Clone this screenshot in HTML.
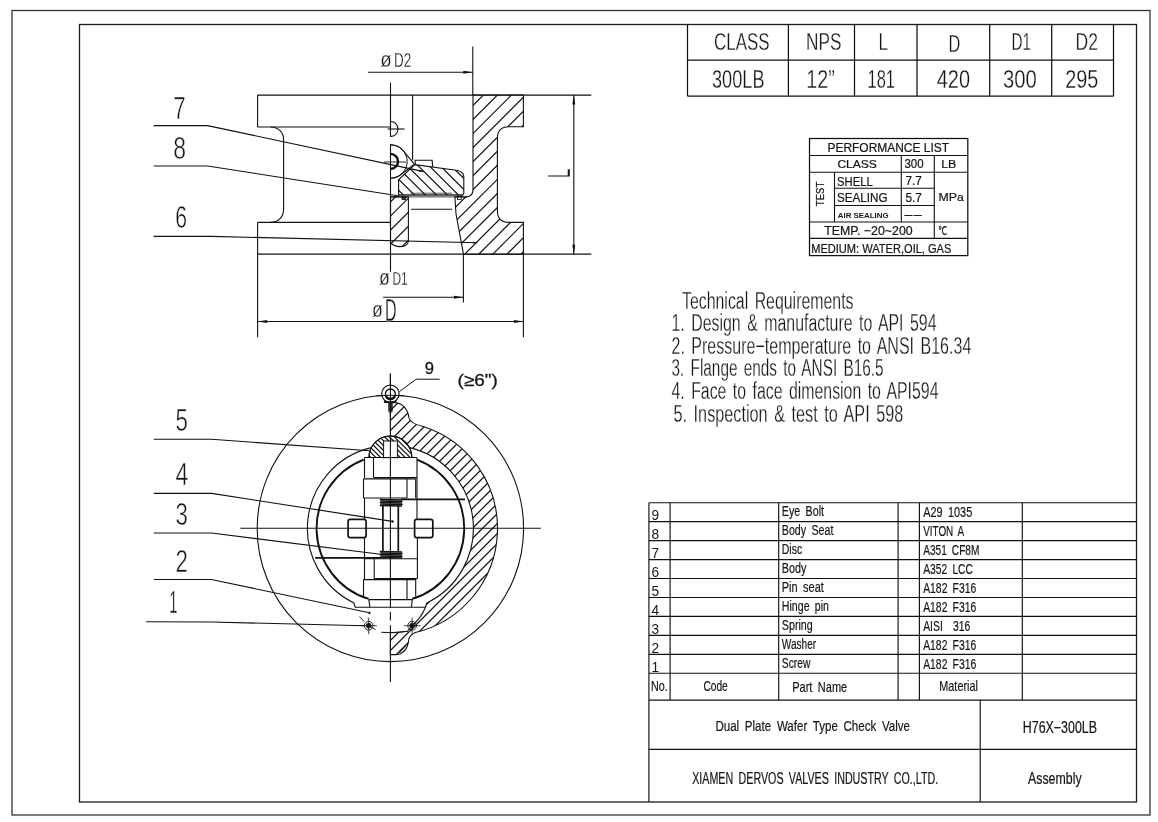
<!DOCTYPE html>
<html lang="en">
<head>
<meta charset="utf-8">
<title>Dual Plate Wafer Type Check Valve H76X-300LB</title>
<style>
html,body{margin:0;padding:0;background:#fff;}
body{width:1158px;height:822px;overflow:hidden;}
svg{display:block;will-change:transform;}
text{font-family:"Liberation Sans","Noto Sans CJK SC",sans-serif;fill:#151515;}
.t{stroke:#fff;stroke-width:0.28px;}
.s{stroke:#151515;stroke-width:0.2px;word-spacing:0.22em;}
.t2{stroke:#fff;stroke-width:0.5px;}
.m{stroke:#151515;stroke-width:0.22px;}
.b{stroke:none;}
.bb{stroke:#151515;stroke-width:0.3px;}
</style>
</head>
<body>
<svg width="1158" height="822" viewBox="0 0 1158 822">
<rect x="0" y="0" width="1158" height="822" fill="#fff"/>
<rect x="12.00" y="10.50" width="1138.00" height="804.50" rx="0" stroke="#333" stroke-width="1.3" fill="none"/>
<rect x="79.50" y="24.50" width="1057.00" height="777.50" rx="0" stroke="#1c1c1c" stroke-width="1.3" fill="none"/>
<line x1="687.50" y1="24.50" x2="687.50" y2="96.20" stroke="#101010" stroke-width="1.25" />
<line x1="788.40" y1="24.50" x2="788.40" y2="96.20" stroke="#101010" stroke-width="1.25" />
<line x1="854.50" y1="24.50" x2="854.50" y2="96.20" stroke="#101010" stroke-width="1.25" />
<line x1="917.00" y1="24.50" x2="917.00" y2="96.20" stroke="#101010" stroke-width="1.25" />
<line x1="989.70" y1="24.50" x2="989.70" y2="96.20" stroke="#101010" stroke-width="1.25" />
<line x1="1051.70" y1="24.50" x2="1051.70" y2="96.20" stroke="#101010" stroke-width="1.25" />
<line x1="1113.50" y1="24.50" x2="1113.50" y2="96.20" stroke="#101010" stroke-width="1.25" />
<line x1="687.50" y1="60.20" x2="1113.50" y2="60.20" stroke="#101010" stroke-width="1.25" />
<line x1="687.50" y1="96.20" x2="1113.50" y2="96.20" stroke="#101010" stroke-width="1.25" />
<text class="t" x="714.0" y="49.8" font-size="24.5" textLength="55.5" lengthAdjust="spacingAndGlyphs" >CLASS</text>
<text class="t" x="806.0" y="49.8" font-size="24.5" textLength="35.5" lengthAdjust="spacingAndGlyphs" >NPS</text>
<text class="t" x="878.4" y="49.8" font-size="24.5" textLength="9.5" lengthAdjust="spacingAndGlyphs" >L</text>
<text class="t" x="948.5" y="52.3" font-size="24.5" textLength="11.8" lengthAdjust="spacingAndGlyphs" >D</text>
<text class="t" x="1011.5" y="49.8" font-size="24.5" textLength="19.5" lengthAdjust="spacingAndGlyphs" >D1</text>
<text class="t" x="1075.5" y="49.8" font-size="24.5" textLength="22.5" lengthAdjust="spacingAndGlyphs" >D2</text>
<text class="t" x="712.0" y="87.5" font-size="25.8" textLength="52.5" lengthAdjust="spacingAndGlyphs" >300LB</text>
<text class="t" x="806.3" y="87.5" font-size="25.8" textLength="28.5" lengthAdjust="spacingAndGlyphs" >12”</text>
<text class="t" x="867.5" y="87.5" font-size="25.8" textLength="27.5" lengthAdjust="spacingAndGlyphs" >181</text>
<text class="t" x="936.8" y="87.5" font-size="25.8" textLength="33.2" lengthAdjust="spacingAndGlyphs" >420</text>
<text class="t" x="1003.0" y="87.5" font-size="25.8" textLength="33.8" lengthAdjust="spacingAndGlyphs" >300</text>
<text class="t" x="1065.2" y="87.5" font-size="25.8" textLength="33.2" lengthAdjust="spacingAndGlyphs" >295</text>
<rect x="809.50" y="138.50" width="158.30" height="117.10" rx="0" stroke="#101010" stroke-width="1.25" fill="none"/>
<line x1="809.50" y1="155.50" x2="967.80" y2="155.50" stroke="#101010" stroke-width="1.1" />
<line x1="809.50" y1="172.20" x2="967.80" y2="172.20" stroke="#101010" stroke-width="1.1" />
<line x1="834.50" y1="188.30" x2="934.30" y2="188.30" stroke="#101010" stroke-width="1.1" />
<line x1="834.50" y1="205.50" x2="934.30" y2="205.50" stroke="#101010" stroke-width="1.1" />
<line x1="809.50" y1="222.00" x2="967.80" y2="222.00" stroke="#101010" stroke-width="1.1" />
<line x1="809.50" y1="238.40" x2="967.80" y2="238.40" stroke="#101010" stroke-width="1.1" />
<line x1="834.50" y1="172.20" x2="834.50" y2="222.00" stroke="#101010" stroke-width="1.1" />
<line x1="901.30" y1="155.50" x2="901.30" y2="222.00" stroke="#101010" stroke-width="1.1" />
<line x1="934.30" y1="155.50" x2="934.30" y2="238.40" stroke="#101010" stroke-width="1.1" />
<text class="m" x="827.5" y="152.3" font-size="12.6" textLength="121.5" lengthAdjust="spacingAndGlyphs" >PERFORMANCE LIST</text>
<text class="m" x="837.4" y="168.0" font-size="11.8" textLength="39.5" lengthAdjust="spacingAndGlyphs" >CLASS</text>
<text class="m" x="904.4" y="168.4" font-size="13.6" textLength="19.2" lengthAdjust="spacingAndGlyphs" >300</text>
<text class="m" x="941.2" y="168.0" font-size="11.8" textLength="15.2" lengthAdjust="spacingAndGlyphs" >LB</text>
<text class="m" x="837.0" y="185.8" font-size="12.4" textLength="35.8" lengthAdjust="spacingAndGlyphs" >SHELL</text>
<text class="m" x="905.4" y="185.2" font-size="13.6" textLength="16.4" lengthAdjust="spacingAndGlyphs" >7.7</text>
<text class="m" x="837.0" y="202.3" font-size="12.4" textLength="50.5" lengthAdjust="spacingAndGlyphs" >SEALING</text>
<text class="m" x="905.4" y="202.0" font-size="13.6" textLength="16.4" lengthAdjust="spacingAndGlyphs" >5.7</text>
<text class="m" x="938.4" y="201.2" font-size="11.4" textLength="25.4" lengthAdjust="spacingAndGlyphs" >MPa</text>
<text class="b" x="837.8" y="217.5" font-size="8.0" textLength="50.8" lengthAdjust="spacingAndGlyphs" font-weight="bold">AIR SEALING</text>
<text class="m" x="903.9" y="219.7" font-size="13.6" textLength="18.8" lengthAdjust="spacingAndGlyphs" >−−</text>
<text class="m" x="0.0" y="0.0" font-size="11.4" textLength="24.5" lengthAdjust="spacingAndGlyphs" transform="translate(824.2,206.2) rotate(-90)">TEST</text>
<text class="m" x="824.2" y="235.1" font-size="12.4" textLength="88.5" lengthAdjust="spacingAndGlyphs" >TEMP. −20~200</text>
<text class="bb" x="938.4" y="234.9" font-size="11.0" textLength="8.6" lengthAdjust="spacingAndGlyphs" >℃</text>
<text class="m" x="811.2" y="252.8" font-size="12.4" textLength="140.2" lengthAdjust="spacingAndGlyphs" >MEDIUM: WATER,OIL, GAS</text>
<text class="t" x="682.0" y="308.6" font-size="23.5" textLength="171.5" lengthAdjust="spacingAndGlyphs" word-spacing="3.0">Technical Requirements</text>
<text class="t" x="671.5" y="330.7" font-size="23.5" textLength="265.0" lengthAdjust="spacingAndGlyphs" word-spacing="3.0">1. Design &amp; manufacture to API 594</text>
<text class="t" x="671.5" y="353.5" font-size="23.5" textLength="299.8" lengthAdjust="spacingAndGlyphs" word-spacing="3.0">2. Pressure−temperature to ANSI B16.34</text>
<text class="t" x="671.5" y="376.3" font-size="23.5" textLength="212.0" lengthAdjust="spacingAndGlyphs" word-spacing="3.0">3. Flange ends to ANSI B16.5</text>
<text class="t" x="671.5" y="399.1" font-size="23.5" textLength="267.0" lengthAdjust="spacingAndGlyphs" word-spacing="3.0">4. Face to face dimension to API594</text>
<text class="t" x="673.5" y="421.9" font-size="23.5" textLength="229.8" lengthAdjust="spacingAndGlyphs" word-spacing="3.0">5. Inspection &amp; test to API 598</text>
<line x1="648.90" y1="502.70" x2="1136.50" y2="502.70" stroke="#101010" stroke-width="1.15" />
<line x1="648.90" y1="521.65" x2="1136.50" y2="521.65" stroke="#101010" stroke-width="1.15" />
<line x1="648.90" y1="540.60" x2="1136.50" y2="540.60" stroke="#101010" stroke-width="1.15" />
<line x1="648.90" y1="559.55" x2="1136.50" y2="559.55" stroke="#101010" stroke-width="1.15" />
<line x1="648.90" y1="578.50" x2="1136.50" y2="578.50" stroke="#101010" stroke-width="1.15" />
<line x1="648.90" y1="597.45" x2="1136.50" y2="597.45" stroke="#101010" stroke-width="1.15" />
<line x1="648.90" y1="616.40" x2="1136.50" y2="616.40" stroke="#101010" stroke-width="1.15" />
<line x1="648.90" y1="635.35" x2="1136.50" y2="635.35" stroke="#101010" stroke-width="1.15" />
<line x1="648.90" y1="654.30" x2="1136.50" y2="654.30" stroke="#101010" stroke-width="1.15" />
<line x1="648.90" y1="673.25" x2="1136.50" y2="673.25" stroke="#101010" stroke-width="1.15" />
<line x1="648.90" y1="700.10" x2="1136.50" y2="700.10" stroke="#101010" stroke-width="1.15" />
<line x1="648.90" y1="502.70" x2="648.90" y2="700.10" stroke="#101010" stroke-width="1.15" />
<line x1="670.10" y1="502.70" x2="670.10" y2="700.10" stroke="#101010" stroke-width="1.15" />
<line x1="778.70" y1="502.70" x2="778.70" y2="700.10" stroke="#101010" stroke-width="1.15" />
<line x1="898.10" y1="502.70" x2="898.10" y2="700.10" stroke="#101010" stroke-width="1.15" />
<line x1="919.40" y1="502.70" x2="919.40" y2="700.10" stroke="#101010" stroke-width="1.15" />
<line x1="1022.30" y1="502.70" x2="1022.30" y2="700.10" stroke="#101010" stroke-width="1.15" />
<text class="b" x="651.6" y="520.1" font-size="14.2" textLength="7.6" lengthAdjust="spacingAndGlyphs" >9</text>
<text class="s" x="781.8" y="515.9" font-size="15.2" textLength="42.2" lengthAdjust="spacingAndGlyphs" >Eye Bolt</text>
<text class="s" x="923.2" y="517.1" font-size="14.6" textLength="49.0" lengthAdjust="spacingAndGlyphs" xml:space="preserve">A29 1035</text>
<text class="b" x="651.6" y="539.0" font-size="14.2" textLength="7.6" lengthAdjust="spacingAndGlyphs" >8</text>
<text class="s" x="781.8" y="534.9" font-size="15.2" textLength="51.6" lengthAdjust="spacingAndGlyphs" >Body Seat</text>
<text class="s" x="923.2" y="536.0" font-size="14.6" textLength="41.0" lengthAdjust="spacingAndGlyphs" xml:space="preserve">VITON A</text>
<text class="b" x="651.6" y="558.0" font-size="14.2" textLength="7.6" lengthAdjust="spacingAndGlyphs" >7</text>
<text class="s" x="781.8" y="553.8" font-size="15.2" textLength="20.4" lengthAdjust="spacingAndGlyphs" >Disc</text>
<text class="s" x="923.2" y="555.0" font-size="14.6" textLength="56.2" lengthAdjust="spacingAndGlyphs" xml:space="preserve">A351 CF8M</text>
<text class="b" x="651.6" y="576.9" font-size="14.2" textLength="7.6" lengthAdjust="spacingAndGlyphs" >6</text>
<text class="s" x="781.8" y="572.8" font-size="15.2" textLength="24.6" lengthAdjust="spacingAndGlyphs" >Body</text>
<text class="s" x="923.2" y="573.9" font-size="14.6" textLength="49.8" lengthAdjust="spacingAndGlyphs" xml:space="preserve">A352 LCC</text>
<text class="b" x="651.6" y="595.9" font-size="14.2" textLength="7.6" lengthAdjust="spacingAndGlyphs" >5</text>
<text class="s" x="781.8" y="591.7" font-size="15.2" textLength="42.0" lengthAdjust="spacingAndGlyphs" >Pin seat</text>
<text class="s" x="923.2" y="592.9" font-size="14.6" textLength="53.0" lengthAdjust="spacingAndGlyphs" xml:space="preserve">A182 F316</text>
<text class="b" x="651.6" y="614.9" font-size="14.2" textLength="7.6" lengthAdjust="spacingAndGlyphs" >4</text>
<text class="s" x="781.8" y="610.7" font-size="15.2" textLength="47.2" lengthAdjust="spacingAndGlyphs" >Hinge pin</text>
<text class="s" x="923.2" y="611.9" font-size="14.6" textLength="53.0" lengthAdjust="spacingAndGlyphs" xml:space="preserve">A182 F316</text>
<text class="b" x="651.6" y="633.8" font-size="14.2" textLength="7.6" lengthAdjust="spacingAndGlyphs" >3</text>
<text class="s" x="781.8" y="629.6" font-size="15.2" textLength="31.0" lengthAdjust="spacingAndGlyphs" >Spring</text>
<text class="s" x="923.2" y="630.8" font-size="14.6" textLength="47.2" lengthAdjust="spacingAndGlyphs" xml:space="preserve">AISI  316</text>
<text class="b" x="651.6" y="652.8" font-size="14.2" textLength="7.6" lengthAdjust="spacingAndGlyphs" >2</text>
<text class="s" x="781.8" y="648.6" font-size="15.2" textLength="34.4" lengthAdjust="spacingAndGlyphs" >Washer</text>
<text class="s" x="923.2" y="649.8" font-size="14.6" textLength="53.0" lengthAdjust="spacingAndGlyphs" xml:space="preserve">A182 F316</text>
<text class="b" x="651.6" y="671.7" font-size="14.2" textLength="7.6" lengthAdjust="spacingAndGlyphs" >1</text>
<text class="s" x="781.8" y="667.5" font-size="15.2" textLength="28.6" lengthAdjust="spacingAndGlyphs" >Screw</text>
<text class="s" x="923.2" y="668.7" font-size="14.6" textLength="53.0" lengthAdjust="spacingAndGlyphs" xml:space="preserve">A182 F316</text>
<text class="s" x="651.0" y="691.3" font-size="14.6" textLength="16.8" lengthAdjust="spacingAndGlyphs" >No.</text>
<text class="s" x="703.4" y="691.3" font-size="14.6" textLength="24.4" lengthAdjust="spacingAndGlyphs" >Code</text>
<text class="s" x="792.2" y="691.5" font-size="14.6" textLength="55.0" lengthAdjust="spacingAndGlyphs" >Part Name</text>
<text class="s" x="939.3" y="690.5" font-size="14.6" textLength="38.6" lengthAdjust="spacingAndGlyphs" >Material</text>
<line x1="648.90" y1="749.30" x2="1136.50" y2="749.30" stroke="#101010" stroke-width="1.15" />
<line x1="648.90" y1="700.10" x2="648.90" y2="802.00" stroke="#101010" stroke-width="1.15" />
<line x1="980.20" y1="700.10" x2="980.20" y2="802.00" stroke="#101010" stroke-width="1.15" />
<text class="s" x="715.4" y="731.2" font-size="15.4" textLength="194.6" lengthAdjust="spacingAndGlyphs" >Dual Plate Wafer Type Check Valve</text>
<text class="s" x="692.2" y="783.5" font-size="16.0" textLength="246.0" lengthAdjust="spacingAndGlyphs" >XIAMEN DERVOS VALVES INDUSTRY CO.,LTD.</text>
<text class="s" x="1022.8" y="732.7" font-size="15.8" textLength="74.2" lengthAdjust="spacingAndGlyphs" >H76X−300LB</text>
<text class="s" x="1028.0" y="783.8" font-size="15.8" textLength="53.6" lengthAdjust="spacingAndGlyphs" >Assembly</text>
<defs><clipPath id="cBody"><path d="M 473,95 L 523.4,95 L 523.4,126.8 L 509,126.8 Q 497.4,126.8 497.4,138.2 L 497.4,211 Q 497.4,222.4 509.4,222.4 L 523.4,222.4 L 523.4,254.2 L 463.5,254.2 L 456.0,214 L 454.9,196.9 L 466.5,196.9 Q 473,196.6 473,189.3 Z"/><path d="M 390.5,196.9 L 408.4,196.9 L 408.4,240 Q 408.4,246.6 400.4,246.6 Q 393.2,246.4 390.5,242.6 Z"/></clipPath><clipPath id="cDisc"><path d="M 398.6,195.0 L 398.6,179.8 L 414.8,164.6 L 456.2,170.2 Q 462.8,170.8 463.8,176.2 L 463.8,193.4 L 462.4,194.9 Z"/></clipPath></defs>
<g clip-path="url(#cBody)" stroke="#101010" stroke-width="1.2">
<line x1="385.00" y1="95.05" x2="530.00" y2="-49.95"/>
<line x1="385.00" y1="109.10" x2="530.00" y2="-35.90"/>
<line x1="385.00" y1="123.15" x2="530.00" y2="-21.85"/>
<line x1="385.00" y1="137.20" x2="530.00" y2="-7.80"/>
<line x1="385.00" y1="151.25" x2="530.00" y2="6.25"/>
<line x1="385.00" y1="165.30" x2="530.00" y2="20.30"/>
<line x1="385.00" y1="179.35" x2="530.00" y2="34.35"/>
<line x1="385.00" y1="193.40" x2="530.00" y2="48.40"/>
<line x1="385.00" y1="207.45" x2="530.00" y2="62.45"/>
<line x1="385.00" y1="221.50" x2="530.00" y2="76.50"/>
<line x1="385.00" y1="235.55" x2="530.00" y2="90.55"/>
<line x1="385.00" y1="249.60" x2="530.00" y2="104.60"/>
<line x1="385.00" y1="263.65" x2="530.00" y2="118.65"/>
<line x1="385.00" y1="277.70" x2="530.00" y2="132.70"/>
<line x1="385.00" y1="291.75" x2="530.00" y2="146.75"/>
<line x1="385.00" y1="305.80" x2="530.00" y2="160.80"/>
<line x1="385.00" y1="319.85" x2="530.00" y2="174.85"/>
<line x1="385.00" y1="333.90" x2="530.00" y2="188.90"/>
<line x1="385.00" y1="347.95" x2="530.00" y2="202.95"/>
<line x1="385.00" y1="362.00" x2="530.00" y2="217.00"/>
<line x1="385.00" y1="376.05" x2="530.00" y2="231.05"/>
<line x1="385.00" y1="390.10" x2="530.00" y2="245.10"/>
<line x1="385.00" y1="404.15" x2="530.00" y2="259.15"/>
</g>
<g clip-path="url(#cDisc)" stroke="#101010" stroke-width="1.2">
<line x1="395.00" y1="197.60" x2="470.00" y2="272.60"/>
<line x1="395.00" y1="186.60" x2="470.00" y2="261.60"/>
<line x1="395.00" y1="175.60" x2="470.00" y2="250.60"/>
<line x1="395.00" y1="164.60" x2="470.00" y2="239.60"/>
<line x1="395.00" y1="153.60" x2="470.00" y2="228.60"/>
<line x1="395.00" y1="142.60" x2="470.00" y2="217.60"/>
<line x1="395.00" y1="131.60" x2="470.00" y2="206.60"/>
<line x1="395.00" y1="120.60" x2="470.00" y2="195.60"/>
<line x1="395.00" y1="109.60" x2="470.00" y2="184.60"/>
<line x1="395.00" y1="98.60" x2="470.00" y2="173.60"/>
<line x1="395.00" y1="87.60" x2="470.00" y2="162.60"/>
</g>
<path d="M 473,95 L 523.4,95 L 523.4,126.8 L 509,126.8 Q 497.4,126.8 497.4,138.2 L 497.4,211 Q 497.4,222.4 509.4,222.4 L 523.4,222.4 L 523.4,254.2 L 463.5,254.2 L 456.0,214 L 454.9,196.9 L 466.5,196.9 Q 473,196.6 473,189.3 Z" stroke="#101010" stroke-width="1.1" fill="none" />
<path d="M 390.5,196.9 L 408.4,196.9 L 408.4,240 Q 408.4,246.6 400.4,246.6 Q 393.2,246.4 390.5,242.6 Z" stroke="#101010" stroke-width="1.1" fill="none" />
<path d="M 398.6,195.0 L 398.6,179.8 L 414.8,164.6 L 456.2,170.2 Q 462.8,170.8 463.8,176.2 L 463.8,193.4 L 462.4,194.9 Z" stroke="#101010" stroke-width="1.1" fill="none" />
<line x1="257.60" y1="95.00" x2="591.30" y2="95.00" stroke="#101010" stroke-width="1.25" />
<line x1="257.60" y1="254.20" x2="591.30" y2="254.20" stroke="#101010" stroke-width="1.25" />
<line x1="257.60" y1="95.00" x2="257.60" y2="127.00" stroke="#101010" stroke-width="1.1" />
<line x1="257.60" y1="127.00" x2="390.50" y2="127.00" stroke="#101010" stroke-width="1.1" />
<line x1="257.60" y1="222.40" x2="390.50" y2="222.40" stroke="#101010" stroke-width="1.1" />
<line x1="257.60" y1="222.40" x2="257.60" y2="337.30" stroke="#101010" stroke-width="1.1" />
<path d="M 270.6,127.0 C 278.6,127.2 283.6,132.4 283.6,140.0 L 283.6,209.0 C 283.6,217.0 278.6,222.2 270.6,222.4" stroke="#101010" stroke-width="1.1" fill="none" />
<line x1="523.40" y1="254.20" x2="523.40" y2="337.30" stroke="#101010" stroke-width="1.1" />
<line x1="390.50" y1="82.70" x2="390.50" y2="137.00" stroke="#101010" stroke-width="1.1" />
<line x1="390.50" y1="144.20" x2="390.50" y2="271.80" stroke="#101010" stroke-width="1.1" />
<line x1="412.60" y1="95.00" x2="412.60" y2="160.20" stroke="#101010" stroke-width="1.1" />
<line x1="472.80" y1="46.40" x2="472.80" y2="95.00" stroke="#101010" stroke-width="1.1" />
<path d="M 390.5,121.5 A 7.5 7.5 0 0 1 390.5,136.5" stroke="#101010" stroke-width="1.1" fill="none" />
<line x1="387.60" y1="129.00" x2="404.60" y2="129.00" stroke="#101010" stroke-width="1.1" />
<path d="M 390.5,144.80 A 16.7 16.7 0 0 1 403.37,150.86 L 414.4,164.2 L 400.67,174.74 A 16.7 16.7 0 0 1 390.5,178.20" stroke="#101010" stroke-width="1.1" fill="none" />
<path d="M 390.5,153.9 A 7.5 7.5 0 0 1 390.5,168.9" stroke="#101010" stroke-width="2.4" fill="none" />
<path d="M 390.5,144.8 A 16.7 16.7 0 0 1 390.5,178.2" stroke="#101010" stroke-width="1.0" fill="none" />
<path d="M 415.4,164.7 L 415.1,160.3 L 432.1,160.3 L 432.8,167.0" stroke="#101010" stroke-width="1.1" fill="none" />
<line x1="383.80" y1="162.00" x2="406.00" y2="162.00" stroke="#101010" stroke-width="0.9" />
<line x1="410.30" y1="193.20" x2="451.80" y2="193.20" stroke="#101010" stroke-width="0.7" />
<line x1="398.60" y1="195.00" x2="463.80" y2="195.00" stroke="#101010" stroke-width="0.7" />
<line x1="390.50" y1="196.90" x2="467.00" y2="196.90" stroke="#101010" stroke-width="0.8" />
<rect x="402.00" y="196.90" width="3.60" height="2.50" rx="0" stroke="#101010" stroke-width="0.8" fill="#333"/>
<rect x="457.40" y="196.00" width="3.80" height="3.60" rx="0" stroke="#101010" stroke-width="0.8" fill="none"/>
<line x1="411.00" y1="209.30" x2="452.00" y2="209.30" stroke="#101010" stroke-width="1.1" />
<line x1="368.10" y1="72.20" x2="472.80" y2="72.20" stroke="#101010" stroke-width="1.1" />
<polygon points="472.80,72.20 463.30,73.65 463.30,70.75" fill="#101010"/>
<text class="t" x="380.2" y="67.4" font-size="22.5" textLength="11.4" lengthAdjust="spacingAndGlyphs" >ø</text>
<text class="t" x="394.0" y="67.4" font-size="19.4" textLength="17.2" lengthAdjust="spacingAndGlyphs" >D2</text>
<line x1="573.80" y1="95.00" x2="573.80" y2="254.20" stroke="#101010" stroke-width="1.1" />
<polygon points="573.80,95.00 575.25,104.50 572.35,104.50" fill="#101010"/>
<polygon points="573.80,254.20 572.35,244.70 575.25,244.70" fill="#101010"/>
<text class="t" x="0.0" y="0.0" font-size="31.5" textLength="9.8" lengthAdjust="spacingAndGlyphs" transform="translate(569.9,178.2) rotate(-90)">L</text>
<line x1="463.40" y1="254.20" x2="463.40" y2="302.60" stroke="#101010" stroke-width="1.1" />
<line x1="383.10" y1="297.20" x2="463.40" y2="297.20" stroke="#101010" stroke-width="1.1" />
<polygon points="463.40,297.20 453.90,298.65 453.90,295.75" fill="#101010"/>
<text class="t" x="379.0" y="285.4" font-size="22.5" textLength="10.8" lengthAdjust="spacingAndGlyphs" >ø</text>
<text class="t" x="392.4" y="285.2" font-size="18.6" textLength="15.2" lengthAdjust="spacingAndGlyphs" >D1</text>
<line x1="257.60" y1="321.50" x2="523.40" y2="321.50" stroke="#101010" stroke-width="1.1" />
<polygon points="257.60,321.50 267.10,320.05 267.10,322.95" fill="#101010"/>
<polygon points="523.40,321.50 513.90,322.95 513.90,320.05" fill="#101010"/>
<text class="t" x="372.0" y="316.9" font-size="21.5" textLength="10.8" lengthAdjust="spacingAndGlyphs" >ø</text>
<text class="t" x="384.9" y="321.4" font-size="30.8" textLength="11.6" lengthAdjust="spacingAndGlyphs" >D</text>
<text class="t2" x="173.2" y="119.0" font-size="32.0" textLength="12.4" lengthAdjust="spacingAndGlyphs" >7</text>
<path d="M 153.6,125.6 L 207.6,125.6 L 423.8,171.6" stroke="#101010" stroke-width="1.1" fill="none" />
<text class="t2" x="173.2" y="159.2" font-size="32.0" textLength="12.8" lengthAdjust="spacingAndGlyphs" >8</text>
<path d="M 153.6,166.0 L 207.6,166.0 L 399.5,196.0" stroke="#101010" stroke-width="1.1" fill="none" />
<text class="t2" x="175.2" y="228.0" font-size="32.0" textLength="11.8" lengthAdjust="spacingAndGlyphs" >6</text>
<path d="M 153.6,236.4 L 211.5,236.4 L 477.4,242.8" stroke="#101010" stroke-width="1.1" fill="none" />
<polygon points="477.40,242.80 472.88,243.59 472.92,241.79" fill="#101010"/>
<polygon points="423.80,171.60 418.72,171.44 419.10,169.68" fill="#101010"/>
<defs><clipPath id="cSec"><path d="M 390.4,402.8 L 396.0,402.7 Q 401.2,403.4 404.6,407.4 Q 408.3,411.8 409.0,418.0 Q 410.2,423.4 423.12,426.42 A 107.1 107.1 0 0 1 415.39,632.54 Q 410.6,634.6 408.9,638.8 L 408.1,643.5 Q 406.4,650.6 400.6,653.8 L 396.7,654.6 L 390.4,654.6 L 390.4,632.6 A 104.3 104.3 0 0 0 407.30,631.32 L 412.1,625.9 Q 421.6,617.0 425.1,608.0 L 426.85,602.97 A 83.0 83.0 0 0 0 409.49,447.63 A 21.5 21.5 0 0 0 390.4,436.0 Z"/></clipPath><clipPath id="cDome"><path d="M 368.9,457.5 A 21.5 21.5 0 0 1 411.9,457.5 Z"/></clipPath></defs>
<g clip-path="url(#cSec)" stroke="#101010" stroke-width="1.25">
<line x1="388.00" y1="402.90" x2="502.00" y2="288.90"/>
<line x1="388.00" y1="412.90" x2="502.00" y2="298.90"/>
<line x1="388.00" y1="422.90" x2="502.00" y2="308.90"/>
<line x1="388.00" y1="432.90" x2="502.00" y2="318.90"/>
<line x1="388.00" y1="442.90" x2="502.00" y2="328.90"/>
<line x1="388.00" y1="452.90" x2="502.00" y2="338.90"/>
<line x1="388.00" y1="462.90" x2="502.00" y2="348.90"/>
<line x1="388.00" y1="472.90" x2="502.00" y2="358.90"/>
<line x1="388.00" y1="482.90" x2="502.00" y2="368.90"/>
<line x1="388.00" y1="492.90" x2="502.00" y2="378.90"/>
<line x1="388.00" y1="502.90" x2="502.00" y2="388.90"/>
<line x1="388.00" y1="512.90" x2="502.00" y2="398.90"/>
<line x1="388.00" y1="522.90" x2="502.00" y2="408.90"/>
<line x1="388.00" y1="532.90" x2="502.00" y2="418.90"/>
<line x1="388.00" y1="542.90" x2="502.00" y2="428.90"/>
<line x1="388.00" y1="552.90" x2="502.00" y2="438.90"/>
<line x1="388.00" y1="562.90" x2="502.00" y2="448.90"/>
<line x1="388.00" y1="572.90" x2="502.00" y2="458.90"/>
<line x1="388.00" y1="582.90" x2="502.00" y2="468.90"/>
<line x1="388.00" y1="592.90" x2="502.00" y2="478.90"/>
<line x1="388.00" y1="602.90" x2="502.00" y2="488.90"/>
<line x1="388.00" y1="612.90" x2="502.00" y2="498.90"/>
<line x1="388.00" y1="622.90" x2="502.00" y2="508.90"/>
<line x1="388.00" y1="632.90" x2="502.00" y2="518.90"/>
<line x1="388.00" y1="642.90" x2="502.00" y2="528.90"/>
<line x1="388.00" y1="652.90" x2="502.00" y2="538.90"/>
<line x1="388.00" y1="662.90" x2="502.00" y2="548.90"/>
<line x1="388.00" y1="672.90" x2="502.00" y2="558.90"/>
<line x1="388.00" y1="682.90" x2="502.00" y2="568.90"/>
<line x1="388.00" y1="692.90" x2="502.00" y2="578.90"/>
<line x1="388.00" y1="702.90" x2="502.00" y2="588.90"/>
<line x1="388.00" y1="712.90" x2="502.00" y2="598.90"/>
<line x1="388.00" y1="722.90" x2="502.00" y2="608.90"/>
<line x1="388.00" y1="732.90" x2="502.00" y2="618.90"/>
<line x1="388.00" y1="742.90" x2="502.00" y2="628.90"/>
<line x1="388.00" y1="752.90" x2="502.00" y2="638.90"/>
<line x1="388.00" y1="762.90" x2="502.00" y2="648.90"/>
<line x1="388.00" y1="772.90" x2="502.00" y2="658.90"/>
</g>
<path d="M 390.4,402.8 L 396.0,402.7 Q 401.2,403.4 404.6,407.4 Q 408.3,411.8 409.0,418.0 Q 410.2,423.4 423.12,426.42 A 107.1 107.1 0 0 1 415.39,632.54 Q 410.6,634.6 408.9,638.8 L 408.1,643.5 Q 406.4,650.6 400.6,653.8 L 396.7,654.6 L 390.4,654.6 L 390.4,632.6 A 104.3 104.3 0 0 0 407.30,631.32 L 412.1,625.9 Q 421.6,617.0 425.1,608.0 L 426.85,602.97 A 83.0 83.0 0 0 0 409.49,447.63 A 21.5 21.5 0 0 0 390.4,436.0 Z" stroke="#101010" stroke-width="1.1" fill="none" />
<circle cx="390.40" cy="528.40" r="133.20" stroke="#101010" stroke-width="1.1" fill="none"/>
<path d="M 353.95,602.97 A 83.00 83.00 0 0 1 371.31,447.63 " stroke="#101010" stroke-width="1.1" fill="none" />
<path d="M 417.09,459.59 A 73.80 73.80 0 0 1 412.10,598.94 " stroke="#101010" stroke-width="1.9" fill="none" />
<path d="M 368.70,598.94 A 73.80 73.80 0 0 1 363.71,459.59 " stroke="#101010" stroke-width="1.9" fill="none" />
<path d="M 368.9,457.5 A 21.5 21.5 0 0 1 411.9,457.5 Z" stroke="#101010" stroke-width="1.0" fill="#fff" />
<g clip-path="url(#cDome)" stroke="#101010" stroke-width="1.2">
<line x1="368.00" y1="454.60" x2="413.00" y2="499.60"/>
<line x1="368.00" y1="449.70" x2="413.00" y2="494.70"/>
<line x1="368.00" y1="444.80" x2="413.00" y2="489.80"/>
<line x1="368.00" y1="439.90" x2="413.00" y2="484.90"/>
<line x1="368.00" y1="435.00" x2="413.00" y2="480.00"/>
<line x1="368.00" y1="430.10" x2="413.00" y2="475.10"/>
<line x1="368.00" y1="425.20" x2="413.00" y2="470.20"/>
<line x1="368.00" y1="420.30" x2="413.00" y2="465.30"/>
<line x1="368.00" y1="415.40" x2="413.00" y2="460.40"/>
<line x1="368.00" y1="410.50" x2="413.00" y2="455.50"/>
<line x1="368.00" y1="405.60" x2="413.00" y2="450.60"/>
<line x1="368.00" y1="400.70" x2="413.00" y2="445.70"/>
<line x1="368.00" y1="395.80" x2="413.00" y2="440.80"/>
<line x1="368.00" y1="390.90" x2="413.00" y2="435.90"/>
</g>
<rect x="383.60" y="441.00" width="13.80" height="16.90" rx="0" stroke="#101010" stroke-width="1.0" fill="#fff"/>
<line x1="384.30" y1="457.90" x2="396.80" y2="457.90" stroke="#fff" stroke-width="1.6" />
<path d="M 368.9,457.5 A 21.5 21.5 0 0 1 411.9,457.5 Z" stroke="#101010" stroke-width="1.1" fill="none" />
<line x1="364.50" y1="457.50" x2="417.00" y2="457.50" stroke="#101010" stroke-width="1.1" />
<line x1="364.50" y1="457.50" x2="364.50" y2="478.20" stroke="#101010" stroke-width="1.1" />
<line x1="373.50" y1="457.50" x2="373.50" y2="477.60" stroke="#101010" stroke-width="1.1" />
<line x1="417.00" y1="457.50" x2="417.00" y2="519.30" stroke="#101010" stroke-width="1.1" />
<line x1="373.50" y1="477.60" x2="417.00" y2="477.60" stroke="#101010" stroke-width="1.1" />
<line x1="363.50" y1="478.90" x2="415.70" y2="478.90" stroke="#101010" stroke-width="1.1" />
<line x1="363.50" y1="478.90" x2="363.50" y2="498.00" stroke="#101010" stroke-width="1.1" />
<line x1="407.00" y1="478.90" x2="407.00" y2="498.00" stroke="#101010" stroke-width="1.1" />
<line x1="415.70" y1="478.90" x2="415.70" y2="498.00" stroke="#101010" stroke-width="1.1" />
<line x1="363.50" y1="498.00" x2="407.00" y2="498.00" stroke="#101010" stroke-width="1.1" />
<line x1="364.50" y1="498.00" x2="364.50" y2="519.30" stroke="#101010" stroke-width="1.1" />
<line x1="364.50" y1="537.70" x2="364.50" y2="579.60" stroke="#101010" stroke-width="1.1" />
<line x1="417.40" y1="537.70" x2="417.40" y2="578.60" stroke="#101010" stroke-width="1.1" />
<line x1="364.50" y1="558.80" x2="417.40" y2="558.80" stroke="#101010" stroke-width="1.1" />
<line x1="374.20" y1="558.80" x2="374.20" y2="578.60" stroke="#101010" stroke-width="1.1" />
<line x1="374.20" y1="578.60" x2="417.40" y2="578.60" stroke="#101010" stroke-width="1.1" />
<line x1="363.50" y1="579.60" x2="415.70" y2="579.60" stroke="#101010" stroke-width="1.1" />
<line x1="363.50" y1="579.60" x2="363.50" y2="596.80" stroke="#101010" stroke-width="1.1" />
<line x1="407.00" y1="579.60" x2="407.00" y2="599.60" stroke="#101010" stroke-width="1.1" />
<line x1="415.70" y1="579.60" x2="415.70" y2="596.40" stroke="#101010" stroke-width="1.1" />
<line x1="368.80" y1="599.60" x2="412.30" y2="599.60" stroke="#101010" stroke-width="1.1" />
<line x1="368.80" y1="599.60" x2="369.90" y2="607.30" stroke="#101010" stroke-width="1.1" />
<line x1="412.30" y1="599.60" x2="411.40" y2="607.30" stroke="#101010" stroke-width="1.1" />
<line x1="355.10" y1="607.30" x2="425.10" y2="607.30" stroke="#101010" stroke-width="1.1" />
<line x1="353.95" y1="602.97" x2="355.10" y2="607.30" stroke="#101010" stroke-width="1.1" />
<line x1="359.50" y1="616.60" x2="364.20" y2="621.70" stroke="#101010" stroke-width="0.9" />
<path d="M 381.24,632.30 A 104.30 104.30 0 0 0 407.30,631.32 " stroke="#101010" stroke-width="1.0" fill="none" />
<line x1="405.40" y1="645.90" x2="399.40" y2="653.00" stroke="#101010" stroke-width="0.9" />
<line x1="379.80" y1="499.40" x2="402.00" y2="499.90" stroke="#101010" stroke-width="1.5" />
<line x1="379.80" y1="551.40" x2="402.00" y2="551.90" stroke="#101010" stroke-width="1.5" />
<line x1="380.40" y1="500.95" x2="402.60" y2="501.45" stroke="#101010" stroke-width="1.5" />
<line x1="380.40" y1="552.95" x2="402.60" y2="553.45" stroke="#101010" stroke-width="1.5" />
<line x1="379.80" y1="502.50" x2="402.00" y2="503.00" stroke="#101010" stroke-width="1.5" />
<line x1="379.80" y1="554.50" x2="402.00" y2="555.00" stroke="#101010" stroke-width="1.5" />
<line x1="380.40" y1="504.05" x2="402.60" y2="504.55" stroke="#101010" stroke-width="1.5" />
<line x1="380.40" y1="556.05" x2="402.60" y2="556.55" stroke="#101010" stroke-width="1.5" />
<line x1="379.80" y1="505.60" x2="402.00" y2="506.10" stroke="#101010" stroke-width="1.5" />
<line x1="379.80" y1="557.60" x2="402.00" y2="558.10" stroke="#101010" stroke-width="1.5" />
<line x1="401.00" y1="499.30" x2="465.00" y2="499.30" stroke="#101010" stroke-width="1.8" />
<line x1="315.20" y1="557.80" x2="381.00" y2="557.80" stroke="#101010" stroke-width="1.8" />
<line x1="382.90" y1="505.60" x2="382.90" y2="551.40" stroke="#101010" stroke-width="1.7" />
<line x1="398.30" y1="505.60" x2="398.30" y2="551.40" stroke="#101010" stroke-width="1.7" />
<rect x="348.10" y="519.30" width="18.00" height="18.40" rx="2.2" stroke="#101010" stroke-width="1.7" fill="#fff"/>
<rect x="414.60" y="519.30" width="18.20" height="18.40" rx="2.2" stroke="#101010" stroke-width="1.7" fill="#fff"/>
<line x1="240.40" y1="528.30" x2="540.90" y2="528.30" stroke="#101010" stroke-width="1.1" />
<line x1="390.40" y1="373.50" x2="390.40" y2="431.60" stroke="#101010" stroke-width="1.1" />
<line x1="390.40" y1="436.50" x2="390.40" y2="607.60" stroke="#101010" stroke-width="1.1" />
<line x1="390.40" y1="611.90" x2="390.40" y2="620.60" stroke="#101010" stroke-width="1.1" />
<line x1="390.40" y1="625.30" x2="390.40" y2="682.00" stroke="#101010" stroke-width="1.1" />
<circle cx="368.70" cy="625.70" r="4.30" stroke="#101010" stroke-width="0.9" fill="none"/>
<circle cx="368.70" cy="625.70" r="2.40" stroke="#101010" stroke-width="0.8" fill="#1c1c1c"/>
<line x1="360.50" y1="625.70" x2="376.90" y2="625.70" stroke="#101010" stroke-width="0.8" />
<line x1="368.70" y1="617.50" x2="368.70" y2="634.30" stroke="#101010" stroke-width="0.8" />
<circle cx="412.10" cy="625.70" r="4.30" stroke="#101010" stroke-width="0.9" fill="none"/>
<circle cx="412.10" cy="625.70" r="2.40" stroke="#101010" stroke-width="0.8" fill="#1c1c1c"/>
<line x1="403.90" y1="625.70" x2="420.30" y2="625.70" stroke="#101010" stroke-width="0.8" />
<line x1="412.10" y1="617.50" x2="412.10" y2="634.30" stroke="#101010" stroke-width="0.8" />
<line x1="370.60" y1="626.90" x2="375.60" y2="629.60" stroke="#101010" stroke-width="0.9" />
<circle cx="390.40" cy="393.80" r="8.70" stroke="#101010" stroke-width="1.2" fill="#fff"/>
<path d="M 376.48,395.93 A 133.20 133.20 0 0 1 404.32,395.93 " stroke="#101010" stroke-width="1.0" fill="none" />
<circle cx="390.40" cy="394.00" r="5.00" stroke="#101010" stroke-width="1.3" fill="none"/>
<path d="M 385.9,396.2 A 5 5 0 0 0 394.9,396.2" stroke="#101010" stroke-width="2.4" fill="none" />
<line x1="390.40" y1="373.50" x2="390.40" y2="404.00" stroke="#101010" stroke-width="1.1" />
<line x1="384.00" y1="402.10" x2="396.30" y2="402.10" stroke="#101010" stroke-width="1.9" />
<line x1="389.00" y1="402.00" x2="389.00" y2="411.60" stroke="#101010" stroke-width="1.5" />
<line x1="391.90" y1="402.00" x2="391.90" y2="411.60" stroke="#101010" stroke-width="1.5" />
<path d="M 389.0,411.4 L 390.4,413.2 L 391.9,411.4" stroke="#101010" stroke-width="1.0" fill="none" />
<text class="bb" x="424.8" y="374.2" font-size="16.6" >9</text>
<path d="M 399.4,391.6 L 416.2,379.2 L 439.6,379.2" stroke="#101010" stroke-width="1.0" fill="none" />
<text class="bb" x="457.6" y="385.9" font-size="17.0" textLength="40.2" lengthAdjust="spacingAndGlyphs" >(≥6")</text>
<text class="t2" x="175.6" y="431.0" font-size="32.0" textLength="12.4" lengthAdjust="spacingAndGlyphs" >5</text>
<path d="M 153.7,439.3 L 211.5,439.3 L 369.6,450.8" stroke="#101010" stroke-width="1.1" fill="none" />
<text class="t2" x="175.4" y="484.8" font-size="32.0" textLength="12.8" lengthAdjust="spacingAndGlyphs" >4</text>
<path d="M 153.7,493.4 L 211.5,493.4 L 392.4,521.4" stroke="#101010" stroke-width="1.1" fill="none" />
<circle cx="392.60" cy="521.50" r="0.90" stroke="#101010" stroke-width="0.6" fill="#222"/>
<text class="t2" x="175.6" y="525.0" font-size="32.0" textLength="12.4" lengthAdjust="spacingAndGlyphs" >3</text>
<path d="M 153.7,533.0 L 211.5,533.0 L 380.3,554.2" stroke="#101010" stroke-width="1.1" fill="none" />
<text class="t2" x="175.6" y="571.6" font-size="32.0" textLength="12.4" lengthAdjust="spacingAndGlyphs" >2</text>
<path d="M 153.7,579.5 L 211.5,579.5 L 369.4,612.8" stroke="#101010" stroke-width="1.1" fill="none" />
<circle cx="369.40" cy="612.90" r="0.90" stroke="#101010" stroke-width="0.6" fill="#222"/>
<text class="t2" x="169.2" y="613.2" font-size="32.0" textLength="8.2" lengthAdjust="spacingAndGlyphs" >1</text>
<path d="M 146.1,621.8 L 211.5,622.0 L 364.5,625.7" stroke="#101010" stroke-width="1.1" fill="none" />
</svg>
</body>
</html>
